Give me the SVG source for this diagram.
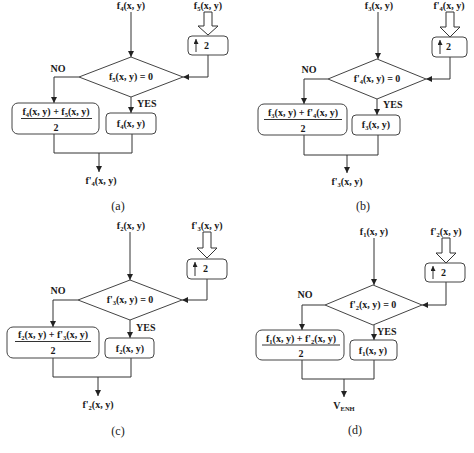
<svg xmlns="http://www.w3.org/2000/svg" width="474" height="453" viewBox="0 0 474 453">
<style>
text{font-family:"Liberation Serif","Times New Roman",serif;font-weight:bold;font-size:10px;fill:#1a1a1a;text-anchor:middle}
.l{text-anchor:start}
.cap{font-weight:normal;font-size:12px}
.s{font-size:6.5px}
.ln{fill:none;stroke:#333;stroke-width:1}
.bx{fill:#fff;stroke:#444;stroke-width:1}
.ha{fill:#fff;stroke:#333;stroke-width:1}
</style>
<defs>
<marker id="ar" viewBox="0 0 6 6" refX="6" refY="3" markerWidth="6" markerHeight="6" markerUnits="userSpaceOnUse" orient="auto">
<path d="M0,0 L6,3 L0,6 z" fill="#222"/>
</marker>
<marker id="au" viewBox="0 0 5 5" refX="5" refY="2.5" markerWidth="5" markerHeight="5" markerUnits="userSpaceOnUse" orient="auto">
<path d="M0,0 L5,2.5 L0,5 z" fill="#222"/>
</marker>
</defs>
<rect width="474" height="453" fill="#fff"/>

<!-- connectors -->
<g id="connectors">
<!-- panel a -->
<path class="ln" d="M131,12 V57" marker-end="url(#ar)"/>
<path class="ln" d="M208,55 V77 H183" marker-end="url(#ar)"/>
<path class="ln" d="M79,77 H54 V103" marker-end="url(#ar)"/>
<path class="ln" d="M131,97 V113" marker-end="url(#ar)"/>
<path class="ln" d="M54,134 V153 H132 V134"/>
<path class="ln" d="M99,153 V172" marker-end="url(#ar)"/>
<polygon class="ha" points="204,12 212,12 212,26 218,26 208,35 198,26 204,26"/>
<!-- panel b -->
<path class="ln" d="M378,12 V59" marker-end="url(#ar)"/>
<path class="ln" d="M450,57 V79 H426" marker-end="url(#ar)"/>
<path class="ln" d="M328,79 H304 V104" marker-end="url(#ar)"/>
<path class="ln" d="M377,99 V115" marker-end="url(#ar)"/>
<path class="ln" d="M304,135 V155 H378 V135"/>
<path class="ln" d="M347,155 V173" marker-end="url(#ar)"/>
<polygon class="ha" points="446,12 454,12 454,27 460,27 450,37 440,27 446,27"/>
<!-- panel c -->
<path class="ln" d="M130,232 V280" marker-end="url(#ar)"/>
<path class="ln" d="M207,279 V300 H182" marker-end="url(#ar)"/>
<path class="ln" d="M78,300 H53 V327" marker-end="url(#ar)"/>
<path class="ln" d="M130,320 V338" marker-end="url(#ar)"/>
<path class="ln" d="M53,358 V377 H131 V358"/>
<path class="ln" d="M98,377 V396" marker-end="url(#ar)"/>
<polygon class="ha" points="203,232 211,232 211,248 217,248 207,258 197,248 203,248"/>
<!-- panel d -->
<path class="ln" d="M374,238 V285" marker-end="url(#ar)"/>
<path class="ln" d="M446,282 V305 H422" marker-end="url(#ar)"/>
<path class="ln" d="M325,305 H302 V330" marker-end="url(#ar)"/>
<path class="ln" d="M374,325 V340" marker-end="url(#ar)"/>
<path class="ln" d="M302,360 V379 H374 V360"/>
<path class="ln" d="M344,379 V397" marker-end="url(#ar)"/>
<polygon class="ha" points="442,238 450,238 450,253 456,253 446,263 436,253 442,253"/>
</g>

<!-- ================= panel a ================= -->
<g id="a-in"><text x="131" y="9">f<tspan class="s" dy="2">4</tspan><tspan dy="-2">(x, y)</tspan></text></g>
<g id="a-fb"><text x="208" y="9">f<tspan class="s" dy="2">5</tspan><tspan dy="-2">(x, y)</tspan></text></g>
<g id="a-up"><rect class="bx" x="188" y="36" width="40" height="19" rx="4"/><path class="ln" d="M196,52 V39" marker-end="url(#au)"/><text x="204" y="49" class="l">2</text></g>
<g id="a-dec"><polygon class="bx" points="131,57 183,77 131,97 79,77"/><text x="131" y="80">f<tspan class="s" dy="2">5</tspan><tspan dy="-2">(x, y) = 0</tspan></text></g>
<g id="a-no"><rect class="bx" x="12" y="103" width="87" height="31" rx="6"/><text x="56" y="115">f<tspan class="s" dy="2">4</tspan><tspan dy="-2">(x, y) + f</tspan><tspan class="s" dy="2">5</tspan><tspan dy="-2">(x, y)</tspan></text><path class="ln" d="M21,118.5 H92"/><text x="56" y="131">2</text></g>
<g id="a-yes"><rect class="bx" x="106" y="113" width="50" height="21" rx="4"/><text x="131" y="127">f<tspan class="s" dy="2">4</tspan><tspan dy="-2">(x, y)</tspan></text></g>
<g id="a-out"><text x="101" y="184">f'<tspan class="s" dy="2">4</tspan><tspan dy="-2">(x, y)</tspan></text></g>
<text x="58" y="72">NO</text>
<text x="137" y="107" class="l">YES</text>
<text x="118" y="210" class="cap">(a)</text>

<!-- ================= panel b ================= -->
<g id="b-in"><text x="379" y="9">f<tspan class="s" dy="2">3</tspan><tspan dy="-2">(x, y)</tspan></text></g>
<g id="b-fb"><text x="449" y="9">f'<tspan class="s" dy="2">4</tspan><tspan dy="-2">(x, y)</tspan></text></g>
<g id="b-up"><rect class="bx" x="432" y="37" width="35" height="20" rx="4"/><path class="ln" d="M440,54 V40" marker-end="url(#au)"/><text x="446" y="50" class="l">2</text></g>
<g id="b-dec"><polygon class="bx" points="377,59 426,79 377,99 328,79"/><text x="377" y="82">f'<tspan class="s" dy="2">4</tspan><tspan dy="-2">(x, y) = 0</tspan></text></g>
<g id="b-no"><rect class="bx" x="258" y="104" width="89" height="31" rx="6"/><text x="303" y="116">f<tspan class="s" dy="2">3</tspan><tspan dy="-2">(x, y) + f'</tspan><tspan class="s" dy="2">4</tspan><tspan dy="-2">(x, y)</tspan></text><path class="ln" d="M264,119.5 H342"/><text x="303" y="132">2</text></g>
<g id="b-yes"><rect class="bx" x="352" y="115" width="48" height="20" rx="4"/><text x="376" y="128">f<tspan class="s" dy="2">3</tspan><tspan dy="-2">(x, y)</tspan></text></g>
<g id="b-out"><text x="347" y="185">f'<tspan class="s" dy="2">3</tspan><tspan dy="-2">(x, y)</tspan></text></g>
<text x="309" y="73">NO</text>
<text x="383" y="108" class="l">YES</text>
<text x="363" y="210" class="cap">(b)</text>

<!-- ================= panel c ================= -->
<g id="c-in"><text x="131" y="229">f<tspan class="s" dy="2">2</tspan><tspan dy="-2">(x, y)</tspan></text></g>
<g id="c-fb"><text x="207" y="229">f'<tspan class="s" dy="2">3</tspan><tspan dy="-2">(x, y)</tspan></text></g>
<g id="c-up"><rect class="bx" x="187" y="259" width="40" height="20" rx="4"/><path class="ln" d="M195,276 V262" marker-end="url(#au)"/><text x="203" y="272" class="l">2</text></g>
<g id="c-dec"><polygon class="bx" points="130,280 182,300 130,320 78,300"/><text x="130" y="303">f'<tspan class="s" dy="2">3</tspan><tspan dy="-2">(x, y) = 0</tspan></text></g>
<g id="c-no"><rect class="bx" x="7" y="327" width="92" height="31" rx="6"/><text x="53" y="338">f<tspan class="s" dy="2">2</tspan><tspan dy="-2">(x, y) + f'</tspan><tspan class="s" dy="2">3</tspan><tspan dy="-2">(x, y)</tspan></text><path class="ln" d="M15,341.5 H91"/><text x="53" y="354">2</text></g>
<g id="c-yes"><rect class="bx" x="105" y="338" width="49" height="20" rx="4"/><text x="130" y="352">f<tspan class="s" dy="2">2</tspan><tspan dy="-2">(x, y)</tspan></text></g>
<g id="c-out"><text x="98" y="408">f'<tspan class="s" dy="2">2</tspan><tspan dy="-2">(x, y)</tspan></text></g>
<text x="58" y="294">NO</text>
<text x="136" y="331" class="l">YES</text>
<text x="118" y="435" class="cap">(c)</text>

<!-- ================= panel d ================= -->
<g id="d-in"><text x="374" y="235">f<tspan class="s" dy="2">1</tspan><tspan dy="-2">(x, y)</tspan></text></g>
<g id="d-fb"><text x="446" y="235">f'<tspan class="s" dy="2">2</tspan><tspan dy="-2">(x, y)</tspan></text></g>
<g id="d-up"><rect class="bx" x="425" y="263" width="40" height="19" rx="4"/><path class="ln" d="M433,279 V266" marker-end="url(#au)"/><text x="441" y="276" class="l">2</text></g>
<g id="d-dec"><polygon class="bx" points="373,285 422,305 373,325 325,305"/><text x="373" y="308">f'<tspan class="s" dy="2">2</tspan><tspan dy="-2">(x, y) = 0</tspan></text></g>
<g id="d-no"><rect class="bx" x="256" y="330" width="88" height="30" rx="6"/><text x="301" y="342">f<tspan class="s" dy="2">1</tspan><tspan dy="-2">(x, y) + f'</tspan><tspan class="s" dy="2">2</tspan><tspan dy="-2">(x, y)</tspan></text><path class="ln" d="M262,345 H340"/><text x="301" y="357">2</text></g>
<g id="d-yes"><rect class="bx" x="350" y="340" width="47" height="20" rx="4"/><text x="373" y="354">f<tspan class="s" dy="2">1</tspan><tspan dy="-2">(x, y)</tspan></text></g>
<g id="d-out"><text x="344" y="409">V<tspan class="s" dy="2">ENH</tspan></text></g>
<text x="305" y="298">NO</text>
<text x="377" y="335" class="l">YES</text>
<text x="355" y="434" class="cap">(d)</text>
</svg>
